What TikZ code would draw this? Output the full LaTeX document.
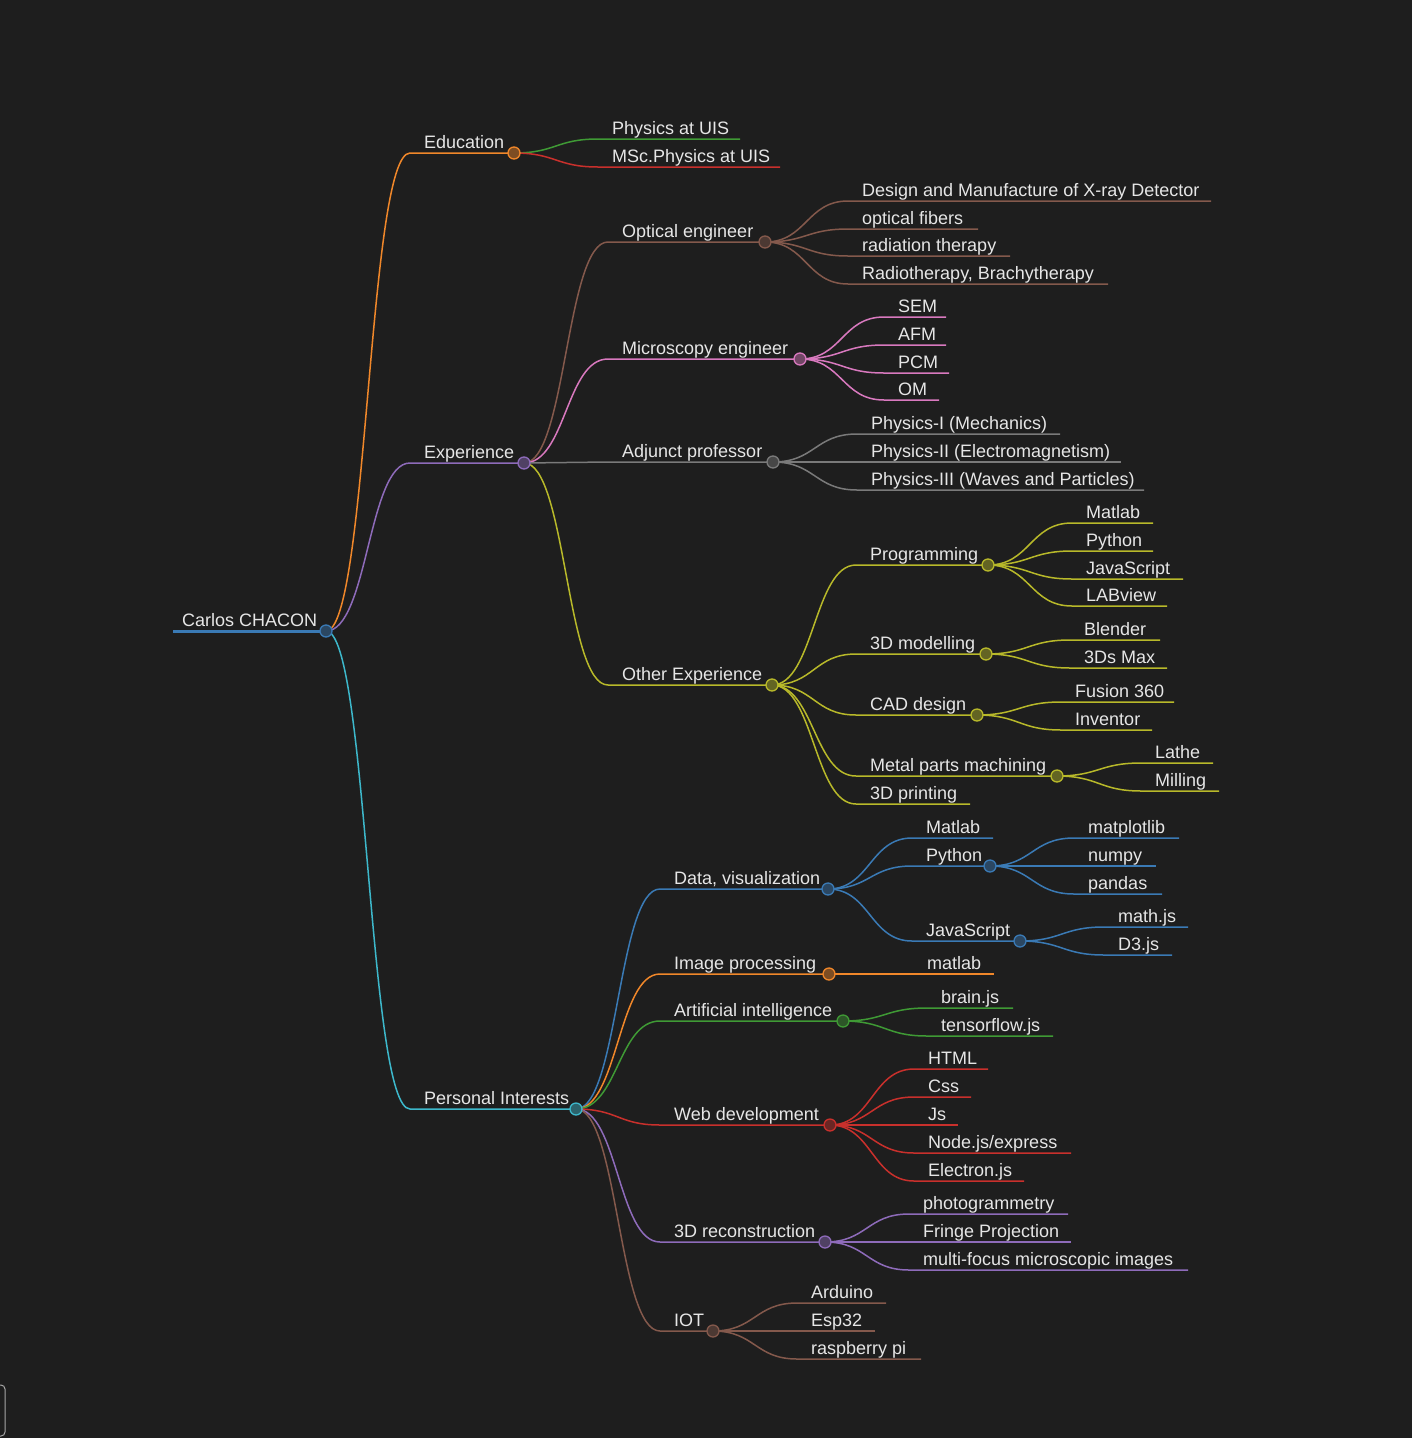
\documentclass[tikz,border=0pt]{standalone}
\usepackage{fontspec}
\setmainfont{Liberation Sans}
\definecolor{bg}{HTML}{1E1E1E}
\definecolor{cblue}{HTML}{3A7AB5}
\definecolor{corange}{HTML}{F0872A}
\definecolor{cgreen}{HTML}{3F9A35}
\definecolor{cred}{HTML}{C9302C}
\definecolor{cpurple}{HTML}{8E6BBA}
\definecolor{cbrown}{HTML}{84594C}
\definecolor{cpink}{HTML}{D979BF}
\definecolor{cgray}{HTML}{7A7A7A}
\definecolor{colive}{HTML}{B8B92A}
\definecolor{ccyan}{HTML}{3DB8CB}
\definecolor{ctext}{HTML}{E6E6E6}
\tikzset{
 lbl/.style={anchor=base west,inner sep=0pt,text=ctext,font=\fontsize{18}{21}\selectfont},
 link/.style={line width=1.5pt},
 dot/.style={circle,inner sep=0pt,minimum size=12pt,line width=1.3pt}
}
% #1 px #2 py #3 x1 #4 x2 #5 y #6 colour #7 text #8 name
\newcommand\mmb[8]{%
 \coordinate (#8s) at (#3,#5);
 \coordinate (#8e) at (#4,#5);
 \draw[link,#6] (#1,#2) .. controls ({(#1+#3)/2},#2) and ({(#1+#3)/2},#5) .. (#8s) -- (#8e);
 \node[lbl] (#8) at ({#3+14},{#5-5}) {#7};}
\newcommand\mmdot[3]{\node[dot,draw=#3,fill=#3!45!bg] (d#1#2) at (#1,#2) {};}
\begin{document}
\begin{tikzpicture}[x=1pt,y=-1pt]
\fill[bg] (0,0) rectangle (1412,1438);
\useasboundingbox (0,0) rectangle (1412,1438);
\draw[gray!70,line width=1pt,rounded corners=4pt] (-10,1385) rectangle (5,1436);
% root
\coordinate (rs) at (173,631); \coordinate (re) at (326,631);
\draw[cblue,line width=3pt] (rs) -- (re);
\node[lbl] (root) at (182,626) {Carlos CHACON};
% Education
\mmb{326}{631}{410}{514}{153}{corange}{Education}{edu}
\mmb{514}{153}{598}{740}{139}{cgreen}{Physics at UIS}{e1}
\mmb{514}{153}{598}{780}{167}{cred}{MSc.Physics at UIS}{e2}
% Experience
\mmb{326}{631}{410}{524}{463}{cpurple}{Experience}{exp}
\mmb{524}{463}{608}{765}{242}{cbrown}{Optical engineer}{opt}
\mmb{765}{242}{848}{1211}{201}{cbrown}{Design and Manufacture of X-ray Detector}{o1}
\mmb{765}{242}{848}{978}{229}{cbrown}{optical fibers}{o2}
\mmb{765}{242}{848}{1010}{256}{cbrown}{radiation therapy}{o3}
\mmb{765}{242}{848}{1108}{284}{cbrown}{Radiotherapy, Brachytherapy}{o4}
\mmb{524}{463}{608}{800}{359}{cpink}{Microscopy engineer}{mic}
\mmb{800}{359}{884}{946}{317}{cpink}{SEM}{m1}
\mmb{800}{359}{884}{946}{345}{cpink}{AFM}{m2}
\mmb{800}{359}{884}{949}{373}{cpink}{PCM}{m3}
\mmb{800}{359}{884}{939}{400}{cpink}{OM}{m4}
\mmb{524}{463}{608}{773}{462}{cgray}{Adjunct professor}{adj}
\mmb{773}{462}{857}{1060}{434}{cgray}{Physics-I (Mechanics)}{a1}
\mmb{773}{462}{857}{1121}{462}{cgray}{Physics-II (Electromagnetism)}{a2}
\mmb{773}{462}{857}{1144}{490}{cgray}{Physics-III (Waves and Particles)}{a3}
\mmb{524}{463}{608}{772}{685}{colive}{Other Experience}{oth}
\mmb{772}{685}{856}{988}{565}{colive}{Programming}{prg}
\mmb{988}{565}{1072}{1153}{523}{colive}{Matlab}{p1}
\mmb{988}{565}{1072}{1153}{551}{colive}{Python}{p2}
\mmb{988}{565}{1072}{1183}{579}{colive}{JavaScript}{p3}
\mmb{988}{565}{1072}{1167}{606}{colive}{LABview}{p4}
\mmb{772}{685}{856}{986}{654}{colive}{3D modelling}{mod}
\mmb{986}{654}{1070}{1160}{640}{colive}{Blender}{b1}
\mmb{986}{654}{1070}{1167}{668}{colive}{3Ds Max}{b2}
\mmb{772}{685}{856}{977}{715}{colive}{CAD design}{cad}
\mmb{977}{715}{1061}{1174}{702}{colive}{Fusion 360}{c1}
\mmb{977}{715}{1061}{1152}{730}{colive}{Inventor}{c2}
\mmb{772}{685}{856}{1057}{776}{colive}{Metal parts machining}{met}
\mmb{1057}{776}{1141}{1213}{763}{colive}{Lathe}{t1}
\mmb{1057}{776}{1141}{1219}{791}{colive}{Milling}{t2}
\mmb{772}{685}{856}{970}{804}{colive}{3D printing}{prt}
% Personal Interests
\mmb{326}{631}{410}{576}{1109}{ccyan}{Personal Interests}{per}
\mmb{576}{1109}{660}{828}{889}{cblue}{Data, visualization}{dat}
\mmb{828}{889}{912}{993}{838}{cblue}{Matlab}{d1}
\mmb{828}{889}{912}{990}{866}{cblue}{Python}{d2}
\mmb{990}{866}{1074}{1179}{838}{cblue}{matplotlib}{y1}
\mmb{990}{866}{1074}{1156}{866}{cblue}{numpy}{y2}
\mmb{990}{866}{1074}{1162}{894}{cblue}{pandas}{y3}
\mmb{828}{889}{912}{1020}{941}{cblue}{JavaScript}{d3}
\mmb{1020}{941}{1104}{1188}{927}{cblue}{math.js}{j1}
\mmb{1020}{941}{1104}{1172}{955}{cblue}{D3.js}{j2}
\mmb{576}{1109}{660}{829}{974}{corange}{Image processing}{img}
\mmb{829}{974}{913}{994}{974}{corange}{matlab}{i1}
\mmb{576}{1109}{660}{843}{1021}{cgreen}{Artificial intelligence}{ai}
\mmb{843}{1021}{927}{1013}{1008}{cgreen}{brain.js}{ai1}
\mmb{843}{1021}{927}{1053}{1036}{cgreen}{tensorflow.js}{ai2}
\mmb{576}{1109}{660}{830}{1125}{cred}{Web development}{web}
\mmb{830}{1125}{914}{988}{1069}{cred}{HTML}{w1}
\mmb{830}{1125}{914}{971}{1097}{cred}{Css}{w2}
\mmb{830}{1125}{914}{958}{1125}{cred}{Js}{w3}
\mmb{830}{1125}{914}{1071}{1153}{cred}{Node.js/express}{w4}
\mmb{830}{1125}{914}{1024}{1181}{cred}{Electron.js}{w5}
\mmb{576}{1109}{660}{825}{1242}{cpurple}{3D reconstruction}{rec}
\mmb{825}{1242}{909}{1068}{1214}{cpurple}{photogrammetry}{r1}
\mmb{825}{1242}{909}{1071}{1242}{cpurple}{Fringe Projection}{r2}
\mmb{825}{1242}{909}{1188}{1270}{cpurple}{multi-focus microscopic images}{r3}
\mmb{576}{1109}{660}{713}{1331}{cbrown}{IOT}{iot}
\mmb{713}{1331}{797}{886}{1303}{cbrown}{Arduino}{q1}
\mmb{713}{1331}{797}{875}{1331}{cbrown}{Esp32}{q2}
\mmb{713}{1331}{797}{921}{1359}{cbrown}{raspberry pi}{q3}
% dots
\mmdot{326}{631}{cblue}
\mmdot{514}{153}{corange}
\mmdot{524}{463}{cpurple}
\mmdot{765}{242}{cbrown}
\mmdot{800}{359}{cpink}
\mmdot{773}{462}{cgray}
\mmdot{772}{685}{colive}
\mmdot{988}{565}{colive}
\mmdot{986}{654}{colive}
\mmdot{977}{715}{colive}
\mmdot{1057}{776}{colive}
\mmdot{576}{1109}{ccyan}
\mmdot{828}{889}{cblue}
\mmdot{990}{866}{cblue}
\mmdot{1020}{941}{cblue}
\mmdot{829}{974}{corange}
\mmdot{843}{1021}{cgreen}
\mmdot{830}{1125}{cred}
\mmdot{825}{1242}{cpurple}
\mmdot{713}{1331}{cbrown}
\end{tikzpicture}
\end{document}
